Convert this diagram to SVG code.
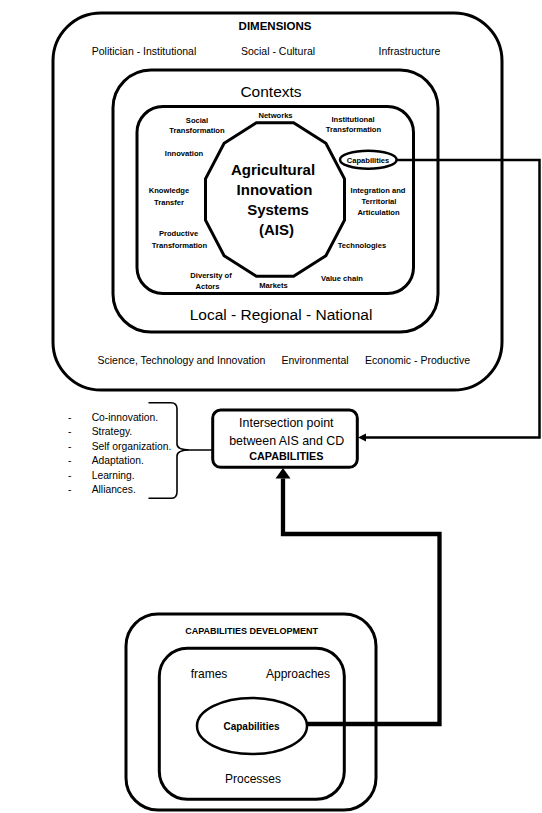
<svg xmlns="http://www.w3.org/2000/svg" width="542" height="813" viewBox="0 0 542 813">
<style>
  text { font-family: "Liberation Sans", Arial, sans-serif; fill: #000; text-anchor: middle; }
  .box { fill: none; stroke: #000; stroke-width: 3; }
  .b { font-weight: bold; }
  .dim { font-size: 10.5px; }
  .big { font-size: 15.5px; }
  .small { font-size: 7.6px; font-weight: bold; }
  .ais { font-size: 15px; font-weight: bold; }
  .list { font-size: 10.3px; text-anchor: start; }
  .mid { font-size: 12.4px; }
  .cd { font-size: 12px; }
  .conn { fill: none; stroke: #000; }
</style>
<defs>
  <marker id="arrThin" markerUnits="userSpaceOnUse" markerWidth="9" markerHeight="9" refX="0" refY="4.5" orient="auto">
    <path d="M0,0.5 L8,4.5 L0,8.5 z" fill="#000"/>
  </marker>
  <marker id="arrThick" markerUnits="userSpaceOnUse" markerWidth="11" markerHeight="16" refX="0" refY="8" orient="auto">
    <path d="M0,0.5 L10.5,8 L0,15.5 z" fill="#000"/>
  </marker>
</defs>
<rect width="542" height="813" fill="#fff"/>

<g id="dimensions">
  <rect class="box" x="53" y="13" width="449" height="377" rx="48"/>
  <text class="b" x="275" y="29.5" font-size="11.5">DIMENSIONS</text>
  <text class="dim" x="144" y="54.5">Politician - Institutional</text>
  <text class="dim" x="278" y="54.5">Social - Cultural</text>
  <text class="dim" x="409.5" y="54.5">Infrastructure</text>
  <text class="dim" x="181.5" y="364">Science, Technology and Innovation</text>
  <text class="dim" x="315" y="364">Environmental</text>
  <text class="dim" x="417.5" y="364">Economic - Productive</text>
</g>

<g id="contexts">
  <rect class="box" x="113" y="70" width="325" height="262" rx="38"/>
  <text class="big" x="271" y="96.5">Contexts</text>
  <text class="big" x="281" y="319.5">Local - Regional - National</text>
</g>

<g id="ais-frame">
  <rect class="box" x="137" y="106.5" width="276.5" height="187" rx="26"/>
  <text class="small" x="197" y="123">Social</text>
  <text class="small" x="197" y="133">Transformation</text>
  <text class="small" x="275.5" y="118">Networks</text>
  <text class="small" x="353" y="122">Institutional</text>
  <text class="small" x="353.5" y="132">Transformation</text>
  <text class="small" x="184" y="155.5">Innovation</text>
  <text class="small" x="169" y="193">Knowledge</text>
  <text class="small" x="169" y="204.5">Transfer</text>
  <text class="small" x="378" y="193">Integration and</text>
  <text class="small" x="379" y="203.5">Territorial</text>
  <text class="small" x="378.5" y="214.5">Articulation</text>
  <text class="small" x="178.5" y="236">Productive</text>
  <text class="small" x="179.5" y="248">Transformation</text>
  <text class="small" x="362" y="248">Technologies</text>
  <text class="small" x="211" y="278">Diversity of</text>
  <text class="small" x="207.5" y="289">Actors</text>
  <text class="small" x="273.5" y="288">Markets</text>
  <text class="small" x="342" y="280.5">Value chain</text>
</g>

<g id="ais">
  <polygon class="box" points="293.6,122.7 256.4,122.7 224.1,143.3 205.5,178.9 205.5,220.1 224.1,255.7 256.4,276.3 293.6,276.3 325.9,255.7 344.5,220.1 344.5,178.9 325.9,143.3"/>
  <text class="ais" x="273" y="175">Agricultural</text>
  <text class="ais" x="274.5" y="195">Innovation</text>
  <text class="ais" x="278" y="215">Systems</text>
  <text class="ais" x="276.5" y="235">(AIS)</text>
</g>

<g id="capabilities-ais">
  <ellipse cx="368.3" cy="159.7" rx="28.3" ry="9" fill="#fff" stroke="#000" stroke-width="2.5"/>
  <text class="small" x="368" y="162.5">Capabilities</text>
</g>

<g id="intersection">
  <rect class="box" x="212.7" y="410" width="144.6" height="57.3" rx="8"/>
  <text class="mid" x="286.3" y="427">Intersection point</text>
  <text class="mid" x="286.7" y="444.5">between AIS and CD</text>
  <text class="b" x="286.3" y="459.5" font-size="10.8">CAPABILITIES</text>
</g>

<g id="attributes">
  <text class="list" x="68" y="420.5">-</text>
  <text class="list" x="91.7" y="420.5">Co-innovation.</text>
  <text class="list" x="68" y="435.3">-</text>
  <text class="list" x="91.7" y="435.3">Strategy.</text>
  <text class="list" x="68" y="449.8">-</text>
  <text class="list" x="91.7" y="449.8">Self organization.</text>
  <text class="list" x="68" y="464.2">-</text>
  <text class="list" x="91.7" y="464.2">Adaptation.</text>
  <text class="list" x="68" y="478.8">-</text>
  <text class="list" x="91.7" y="478.8">Learning.</text>
  <text class="list" x="68" y="493.2">-</text>
  <text class="list" x="91.7" y="493.2">Alliances.</text>
</g>

<g id="capabilities-development">
  <rect class="box" x="126" y="614" width="250" height="196" rx="32"/>
  <text class="b" x="251.7" y="634" font-size="9">CAPABILITIES DEVELOPMENT</text>
  <rect class="box" x="159.3" y="648.3" width="185" height="151" rx="28"/>
  <text class="cd" x="209" y="678">frames</text>
  <text class="cd" x="298" y="678">Approaches</text>
  <text class="cd" x="253" y="783">Processes</text>
</g>

<g id="capabilities-cd">
  <ellipse cx="252" cy="726" rx="55" ry="28" fill="#fff" stroke="#000" stroke-width="2.5"/>
  <text class="b" x="251.5" y="729.5" font-size="10">Capabilities</text>
</g>

<g id="connectors">
  <path class="conn" stroke-width="2.5" d="M396.6,160 H539.5 V437.5 H366" marker-end="url(#arrThin)"/>
  <path class="conn" stroke-width="4.3" d="M307,724 H439.5 V534 H283 V478.5" marker-end="url(#arrThick)"/>
  <path class="conn" stroke-width="1.6" d="M148.5,402.7 H171 Q177,402.7 177,409 V444 Q177,450 190,450 H212.7 M190,450 Q177,450 177,456 V492 Q177,498.3 171,498.3 H148.5"/>
</g>
</svg>
